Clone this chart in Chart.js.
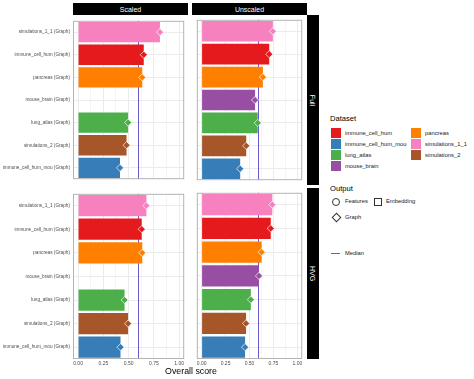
<!DOCTYPE html>
<html>
<head>
<meta charset="utf-8">
<script src="https://cdn.jsdelivr.net/npm/chart.js@4"></script>
<style>
  body { margin: 0; background: #fff; font-family: "Liberation Sans", Arial, sans-serif; }
  #wrap { position: relative; width: 474px; height: 379px; overflow: hidden; }
  canvas { position: absolute; }
  .strip { position: absolute; background: #000; color: #fff; font-size: 7px; display: flex; align-items: center; justify-content: center; }
  .vtext { transform: rotate(90deg); white-space: nowrap; }
  .abs { position: absolute; white-space: nowrap; }
  .sw { position: absolute; width: 10px; height: 10px; }
  .lbl { position: absolute; font-size: 5.8px; color: #1a1a1a; line-height: 10px; }
</style>
</head>
<body>
<div id="wrap">
  <canvas id="c_sf" width="189" height="170" style="left:0;top:15px"></canvas>
  <canvas id="c_uf" width="115" height="170" style="left:192px;top:15px"></canvas>
  <canvas id="c_sh" width="189" height="182" style="left:0;top:188px"></canvas>
  <canvas id="c_uh" width="115" height="182" style="left:192px;top:188px"></canvas>

  <div class="strip" style="left:73px;top:3px;width:115px;height:12px">Scaled</div>
  <div class="strip" style="left:192px;top:3px;width:115px;height:12px">Unscaled</div>
  <div class="strip" style="left:307px;top:15px;width:12px;height:170px"><span class="vtext">Full</span></div>
  <div class="strip" style="left:307px;top:188px;width:12px;height:171px"><span class="vtext">HVG</span></div>

  <div class="abs" style="left:146px;top:366px;width:90px;text-align:center;font-size:8.8px;color:#000">Overall score</div>

  <div id="legend"></div>
</div>
<script>
// rows, top to bottom
const categories = ['simulations_1_1 (Graph)', 'immune_cell_hum (Graph)', 'pancreas (Graph)', 'mouse_brain (Graph)',
                    'lung_atlas (Graph)', 'simulations_2 (Graph)', 'immune_cell_hum_mou (Graph)'];
const rowDatasets = ['simulations_1_1', 'immune_cell_hum', 'pancreas', 'mouse_brain', 'lung_atlas', 'simulations_2', 'immune_cell_hum_mou'];

// overall score per panel
const scaledFull = [0.81, 0.65, 0.635, null, 0.495, 0.48, 0.415];
const unscaledFull = [0.744, 0.706, 0.64, 0.558, 0.586, 0.466, 0.403];
const scaledHvg = [0.676, 0.63, 0.635, null, 0.46, 0.495, 0.42];
const unscaledHvg = [0.738, 0.722, 0.627, 0.599, 0.514, 0.464, 0.454];

const medianScaled = 0.59;
const medianUnscaled = 0.59;

const xTicks = [0, 0.25, 0.5, 0.75, 1];
const xMinorTicks = [0.125, 0.375, 0.625, 0.875];

const legendDatasets = ['immune_cell_hum', 'immune_cell_hum_mou', 'lung_atlas', 'mouse_brain', 'pancreas', 'simulations_1_1', 'simulations_2'];
const datasetColors = {
    immune_cell_hum: '#E41A1C',
    immune_cell_hum_mou: '#377EB8',
    lung_atlas: '#4DAF4A',
    mouse_brain: '#984EA3',
    pancreas: '#FF7F00',
    simulations_1_1: '#F781BF',
    simulations_2: '#A65628'
};
const medianColor = '#6A5ACD';

const rowColors = rowDatasets.map(d => datasetColors[d]);

// median line under the bars + grey panel border
const panelDecor = {
    id: 'panelDecor',
    beforeDatasetsDraw(chart, args, opts) {
        const ctx = chart.ctx;
        const area = chart.chartArea;
        const x = chart.scales.x.getPixelForValue(opts.median);
        ctx.save();
        ctx.strokeStyle = medianColor;
        ctx.lineWidth = 1;
        ctx.beginPath();
        ctx.moveTo(Math.round(x) + 0.5, area.top);
        ctx.lineTo(Math.round(x) + 0.5, area.bottom);
        ctx.stroke();
        ctx.restore();
    },
    afterDraw(chart) {
        const ctx = chart.ctx;
        const a = chart.chartArea;
        ctx.save();
        ctx.strokeStyle = '#b3b3b3';
        ctx.lineWidth = 1;
        ctx.strokeRect(a.left + 0.5, a.top + 0.5, a.right - a.left - 1, a.bottom - a.top - 1);
        ctx.restore();
    }
};

function makePanel(id, values, median, showY, showX) {
    const ctx = document.getElementById(id).getContext('2d');
    return new Chart(ctx, {
        type: 'bar',
        data: {
            labels: categories,
            datasets: [
                {
                    type: 'line',
                    data: values,
                    showLine: false,
                    pointStyle: 'rectRot',
                    pointRadius: 3.6,
                    pointBackgroundColor: rowColors,
                    pointBorderColor: 'rgba(255,255,255,0.85)',
                    pointBorderWidth: 0.8,
                    order: 0
                },
                {
                    data: values,
                    backgroundColor: rowColors,
                    barPercentage: 0.9,
                    categoryPercentage: 1,
                    order: 1
                }
            ]
        },
        options: {
            responsive: false,
            animation: false,
            indexAxis: 'y',
            layout: { padding: 0 },
            plugins: {
                legend: { display: false },
                tooltip: { enabled: false },
                panelDecor: { median: median }
            },
            scales: {
                x: {
                    type: 'linear',
                    min: -0.05,
                    max: 1.05,
                    afterBuildTicks: (scale) => {
                        scale.ticks = xTicks.concat(xMinorTicks).sort((a, b) => a - b).map(v => ({ value: v }));
                    },
                    afterFit: (scale) => { scale.height = showX ? 11 : 0; },
                    border: { display: false },
                    grid: {
                        drawTicks: false,
                        color: '#ebebeb',
                        lineWidth: (c) => (xTicks.includes(c.tick.value) ? 1 : 0.5)
                    },
                    ticks: {
                        display: showX,
                        padding: 2,
                        color: '#4d4d4d',
                        font: { family: 'Liberation Sans', size: 5 },
                        maxRotation: 0,
                        autoSkip: false,
                        callback: (v) => (xTicks.includes(v) ? v.toFixed(2) : '')
                    }
                },
                y: {
                    afterFit: (scale) => { scale.width = showY ? 73 : 0; },
                    border: { display: false },
                    grid: { offset: false, drawTicks: false, color: '#ebebeb', lineWidth: 1 },
                    ticks: {
                        display: showY,
                        padding: 3,
                        color: '#4d4d4d',
                        font: { family: 'Liberation Sans', size: 4.7 }
                    }
                }
            }
        },
        plugins: [panelDecor]
    });
}

makePanel('c_sf', scaledFull, medianScaled, true, false);
makePanel('c_uf', unscaledFull, medianUnscaled, false, false);
makePanel('c_sh', scaledHvg, medianScaled, true, true);
makePanel('c_uh', unscaledHvg, medianUnscaled, false, true);

// legend on the right
const legend = document.getElementById('legend');
let html = '<div class="abs" style="left:330px;top:114px;font-size:7.6px;color:#000">Dataset</div>';
legendDatasets.forEach((d, i) => {
    const col = i < 4 ? 0 : 1;
    const row = i < 4 ? i : i - 4;
    const sx = col === 0 ? 331 : 411;
    const sy = 128 + row * 11;
    html += '<div class="sw" style="left:' + sx + 'px;top:' + sy + 'px;background:' + datasetColors[d] + '"></div>';
    html += '<div class="lbl" style="left:' + (sx + 14) + 'px;top:' + sy + 'px">' + d + '</div>';
});
html += '<div class="abs" style="left:330px;top:184px;font-size:7.6px;color:#000">Output</div>';
html += '<div class="abs" style="left:332px;top:198px;width:6px;height:6px;border:0.8px solid #333;border-radius:50%"></div>';
html += '<div class="lbl" style="left:345px;top:196px">Features</div>';
html += '<div class="abs" style="left:374px;top:198px;width:5.5px;height:5.5px;border:0.8px solid #333"></div>';
html += '<div class="lbl" style="left:386px;top:196px">Embedding</div>';
html += '<div class="abs" style="left:333px;top:214px;width:5px;height:5px;border:0.8px solid #333;transform:rotate(45deg)"></div>';
html += '<div class="lbl" style="left:345px;top:212px">Graph</div>';
html += '<div class="abs" style="left:331px;top:253px;width:9px;height:1px;background:' + medianColor + '"></div>';
html += '<div class="lbl" style="left:345px;top:248px">Median</div>';
legend.innerHTML = html;
</script>
</body>
</html>
